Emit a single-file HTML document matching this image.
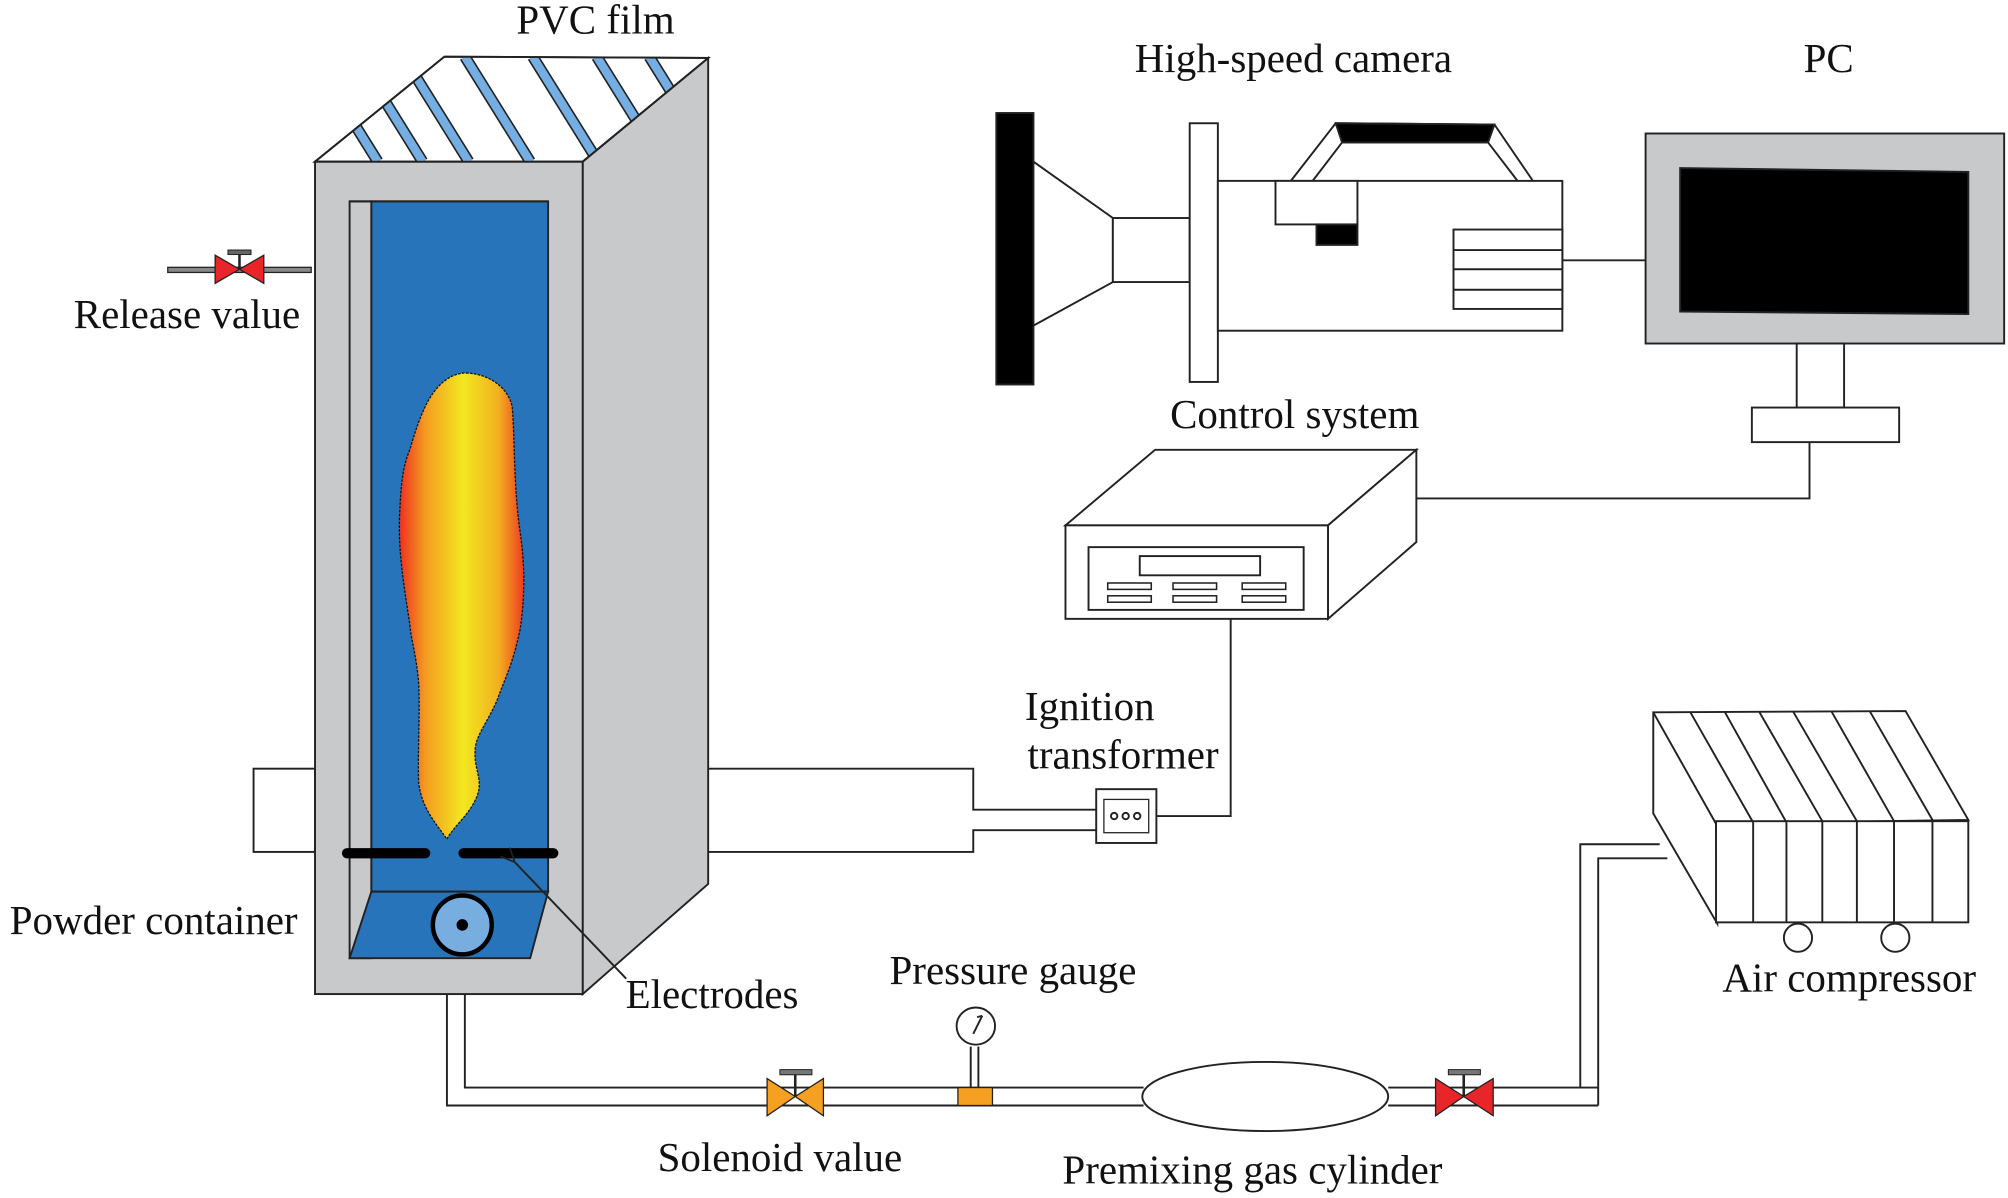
<!DOCTYPE html>
<html><head><meta charset="utf-8"><style>
html,body{margin:0;padding:0;background:#fff;}
svg{display:block;}
text{font-family:"Liberation Serif",serif;font-size:32px;fill:#111;}
</style></head><body>
<svg width="2008" height="1198" viewBox="0 0 1568 935" xmlns="http://www.w3.org/2000/svg">
<defs>
<linearGradient id="fl" gradientUnits="userSpaceOnUse" x1="312" y1="0" x2="411" y2="0">
<stop offset="0" stop-color="#ee3020"/><stop offset="0.2" stop-color="#f39a20"/><stop offset="0.5" stop-color="#f2e820"/><stop offset="0.78" stop-color="#f2b020"/><stop offset="1" stop-color="#ee3020"/>
</linearGradient>
<clipPath id="topc"><polygon points="246,126 347,44 553,45 455,126"/></clipPath>
<marker id="ar" markerWidth="12" markerHeight="12" refX="1" refY="6" orient="auto" markerUnits="userSpaceOnUse"><path d="M12,1 L1,6 L12,11" fill="none" stroke="#222" stroke-width="1.3"/></marker>
</defs>
<g stroke="#222" stroke-width="1.5" fill="none">
<rect x="198" y="600" width="48" height="65" fill="#fff"/>
<polyline points="552,600 760,600 760,632 856,632"/>
<polyline points="552,665 760,665 760,648 856,648"/>
<rect x="856" y="616" width="47" height="42" fill="#fff"/>
<rect x="862" y="624" width="35" height="26" fill="#fff" stroke-width="1"/>
<circle cx="870" cy="637" r="2.5"/><circle cx="879" cy="637" r="2.5"/><circle cx="888" cy="637" r="2.5"/>
<polyline points="903,637 961,637 961,483"/>
<polygon points="455,126 553,45 553,690 455,776" fill="#c8c9cb"/>
<polygon points="246,126 347,44 553,45 455,126" fill="#fff"/>
<rect x="246" y="126" width="209" height="650" fill="#c8c9cb"/>
<rect x="273" y="157" width="17" height="591" fill="#c8c9cb"/>
<rect x="290" y="157" width="138" height="539" fill="#2874ba" stroke-width="1.5"/>
<polygon points="290,696 428,696 414,748 273,748" fill="#2874ba"/>
<line x1="273" y1="157" x2="428" y2="157"/>
</g>
<g clip-path="url(#topc)" stroke-linecap="butt">
<g stroke="#222" stroke-width="9">
<line x1="295" y1="126" x2="244" y2="44"/><line x1="330" y1="126" x2="279" y2="44"/><line x1="366" y1="126" x2="315" y2="44"/><line x1="414" y1="126" x2="363" y2="44"/><line x1="467" y1="126" x2="416" y2="44"/><line x1="517" y1="126" x2="466" y2="44"/><line x1="558" y1="126" x2="507" y2="44"/>
</g>
<g stroke="#74aee2" stroke-width="6.5">
<line x1="295" y1="126" x2="244" y2="44"/><line x1="330" y1="126" x2="279" y2="44"/><line x1="366" y1="126" x2="315" y2="44"/><line x1="414" y1="126" x2="363" y2="44"/><line x1="467" y1="126" x2="416" y2="44"/><line x1="517" y1="126" x2="466" y2="44"/><line x1="558" y1="126" x2="507" y2="44"/>
</g>
</g>
<polygon points="246,126 347,44 553,45 455,126" fill="none" stroke="#222" stroke-width="1.5"/>
<path d="M364,291 C385,292 398,305 400,318 C402,340 401,380 406,414 C409,435 411,460 406,492 C400,520 394,530 388,547 C380,565 371,575 371,586 C370,600 377,608 373,620 C368,635 354,645 349,655 C340,642 330,632 327,612 C326,590 328,560 327,534 C325,510 321,500 320,487 C315,455 311,430 312,403 C313,380 314,365 320,351 C326,330 332,315 338,307 C345,297 354,291 364,291 Z" fill="url(#fl)" stroke="#111" stroke-width="1" stroke-dasharray="2,1"/>
<g stroke="#000" stroke-width="8" stroke-linecap="round">
<line x1="271" y1="666" x2="332" y2="666"/><line x1="362" y1="666" x2="432" y2="666"/>
</g>
<circle cx="361" cy="722" r="23" fill="#78ade0" stroke="#000" stroke-width="3.5"/>
<circle cx="361" cy="722" r="4.5" fill="#000"/>
<line x1="489" y1="764" x2="402" y2="673" stroke="#222" stroke-width="1.5" marker-end="url(#ar)"/>
<rect x="131" y="208.5" width="112" height="4" fill="#888" stroke="#222" stroke-width="1"/>
<polygon points="168,199 187,210 168,221" fill="#e8262a" stroke="#222" stroke-width="1"/>
<polygon points="206,199 187,210 206,221" fill="#e8262a" stroke="#222" stroke-width="1"/>
<line x1="187" y1="196" x2="187" y2="210" stroke="#222" stroke-width="2"/>
<rect x="178" y="195" width="18" height="3.5" fill="#666" stroke="#222" stroke-width="0.8"/>
<g stroke="#222" stroke-width="1.5" fill="none">
<polyline points="349,776 349,863 893,863"/>
<polyline points="363,776 363,849 893,849"/>
<line x1="1084" y1="849" x2="1248" y2="849"/>
<line x1="1084" y1="863" x2="1248" y2="863"/>
<polyline points="1248,863 1248,670 1302,670"/>
<polyline points="1234,849 1234,659 1296,659"/>
<line x1="758" y1="817" x2="758" y2="849"/><line x1="764" y1="817" x2="764" y2="849"/>
<ellipse cx="762" cy="801" rx="15" ry="14.5" fill="#fff"/>
<line x1="760" y1="807" x2="767" y2="793"/><line x1="767" y1="793" x2="763" y2="794"/>
<ellipse cx="988" cy="856" rx="96" ry="27" fill="#fff"/>
</g>
<rect x="748" y="849" width="27" height="14" fill="#f5a020" stroke="#222" stroke-width="1"/>
<polygon points="599,842 621,856 599,871" fill="#f5a020" stroke="#222" stroke-width="1"/>
<polygon points="643,842 621,856 643,871" fill="#f5a020" stroke="#222" stroke-width="1"/>
<line x1="621" y1="838" x2="621" y2="856" stroke="#222" stroke-width="2"/>
<rect x="609" y="835" width="25" height="4" fill="#777" stroke="#222" stroke-width="0.8"/>
<polygon points="1121,842 1143,856 1121,871" fill="#e8262a" stroke="#222" stroke-width="1"/>
<polygon points="1166,842 1143,856 1166,871" fill="#e8262a" stroke="#222" stroke-width="1"/>
<line x1="1143" y1="838" x2="1143" y2="856" stroke="#222" stroke-width="2"/>
<rect x="1131" y="835" width="25" height="4" fill="#777" stroke="#222" stroke-width="0.8"/>
<g stroke="#222" stroke-width="1.5" fill="#fff">
<polygon points="1291,556 1488,555 1537,640 1340,643 1341,721 1291,635"/>
<rect x="1340" y="641" width="197" height="79"/>
<polyline points="1291,556 1340,643" fill="none"/>
<line x1="1320" y1="556" x2="1369" y2="642"/><line x1="1347" y1="556" x2="1395" y2="642"/><line x1="1374" y1="556" x2="1423" y2="641"/><line x1="1400" y1="555" x2="1450" y2="641"/><line x1="1430" y1="555" x2="1479" y2="641"/><line x1="1460" y1="555" x2="1509" y2="640"/>
<line x1="1369" y1="642" x2="1369" y2="720"/><line x1="1395" y1="642" x2="1395" y2="720"/><line x1="1423" y1="641" x2="1423" y2="720"/><line x1="1450" y1="641" x2="1450" y2="720"/><line x1="1479" y1="641" x2="1479" y2="720"/><line x1="1509" y1="640" x2="1509" y2="720"/>
<circle cx="1404" cy="732" r="11"/><circle cx="1480" cy="732" r="11"/>
</g>
<g stroke="#222" stroke-width="1.5" fill="#fff">
<rect x="778" y="88" width="29" height="212" fill="#000"/>
<polygon points="807,126 869,170 869,220 807,254"/>
<rect x="869" y="170" width="60" height="50"/>
<rect x="929" y="96" width="22" height="202"/>
<rect x="951" y="141" width="269" height="117"/>
<polyline points="1008,141 1043,96 1167,97 1197,141" fill="none"/>
<polyline points="1025,141 1048,111 1162,111 1185,141" fill="none"/>
<polygon points="1043,96 1167,97 1162,111 1048,111" fill="#000"/>
<rect x="996" y="141" width="64" height="34"/>
<rect x="1028" y="175" width="32" height="16" fill="#000"/>
<rect x="1135" y="179" width="85" height="62"/>
<line x1="1135" y1="195" x2="1220" y2="195"/><line x1="1135" y1="210" x2="1220" y2="210"/><line x1="1135" y1="226" x2="1220" y2="226"/>
<line x1="1220" y1="203" x2="1285" y2="203"/>
<rect x="1285" y="104" width="280" height="164" fill="#c8c9cb"/>
<polygon points="1312,131 1537,134 1537,245 1312,243" fill="#000"/>
<rect x="1403" y="268" width="37" height="50" fill="#fff"/>
<rect x="1368" y="318" width="115" height="27" fill="#fff"/>
<polyline points="1413,345 1413,389 1106,389" fill="none"/>
<polygon points="832,410 902,351 1106,351 1037,410" />
<polygon points="1037,410 1106,351 1106,423 1037,483"/>
<rect x="832" y="410" width="205" height="73"/>
<rect x="850" y="427" width="168" height="49"/>
<rect x="890" y="434" width="94" height="15"/>
<rect x="865" y="455" width="34" height="5" stroke-width="1.2"/><rect x="916" y="455" width="34" height="5" stroke-width="1.2"/><rect x="970" y="455" width="34" height="5" stroke-width="1.2"/>
<rect x="865" y="465" width="34" height="5" stroke-width="1.2"/><rect x="916" y="465" width="34" height="5" stroke-width="1.2"/><rect x="970" y="465" width="34" height="5" stroke-width="1.2"/>
</g>
<text x="465" y="26" text-anchor="middle">PVC film</text>
<text x="1010" y="56" text-anchor="middle">High-speed camera</text>
<text x="1428" y="56" text-anchor="middle">PC</text>
<text x="146" y="256" text-anchor="middle">Release value</text>
<text x="1011" y="334" text-anchor="middle">Control system</text>
<text x="851" y="562" text-anchor="middle">Ignition</text>
<text x="877" y="600" text-anchor="middle">transformer</text>
<text x="120" y="729" text-anchor="middle">Powder container</text>
<text x="556" y="787" text-anchor="middle">Electrodes</text>
<text x="791" y="768" text-anchor="middle">Pressure gauge</text>
<text x="1444" y="774" text-anchor="middle">Air compressor</text>
<text x="609" y="914" text-anchor="middle">Solenoid value</text>
<text x="978" y="924" text-anchor="middle">Premixing gas cylinder</text>
</svg>
</body></html>
